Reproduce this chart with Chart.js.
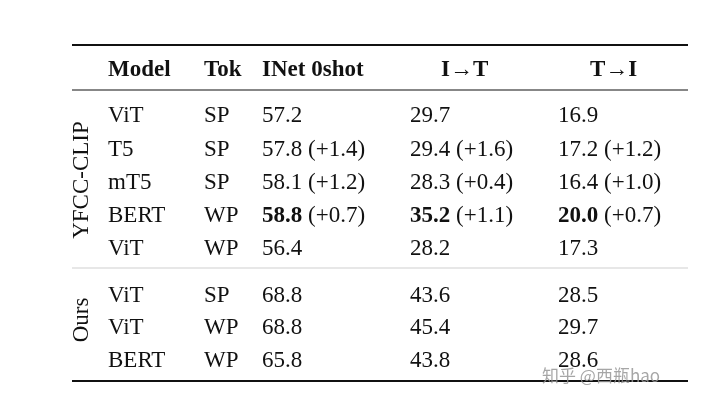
<!DOCTYPE html>
<html>
<head>
<meta charset="utf-8">
<script src="https://cdn.jsdelivr.net/npm/chart.js@4/dist/chart.umd.min.js"></script>
<style>
  html, body { margin: 0; padding: 0; background: #fff; }
</style>
</head>
<body>
<canvas id="tbl" width="716" height="406"></canvas>
<script>
const headers = ["Model", "Tok", "INet 0shot", "I\u2192T", "T\u2192I"];
const groups = ["YFCC-CLIP", "Ours"];
const groupOf = [0, 0, 0, 0, 0, 1, 1, 1];
const models = ["ViT", "T5", "mT5", "BERT", "ViT", "ViT", "ViT", "BERT"];
const toks = ["SP", "SP", "SP", "WP", "WP", "SP", "WP", "WP"];
const inet = ["57.2", "57.8", "58.1", "58.8", "56.4", "68.8", "68.8", "65.8"];
const inetDelta = ["", "(+1.4)", "(+1.2)", "(+0.7)", "", "", "", ""];
const i2t = ["29.7", "29.4", "28.3", "35.2", "28.2", "43.6", "45.4", "43.8"];
const i2tDelta = ["", "(+1.6)", "(+0.4)", "(+1.1)", "", "", "", ""];
const t2i = ["16.9", "17.2", "16.4", "20.0", "17.3", "28.5", "29.7", "28.6"];
const t2iDelta = ["", "(+1.2)", "(+1.0)", "(+0.7)", "", "", "", ""];
const boldRows = [3];

// layout
const colX = [108, 204, 262, 410, 558];
const headerY = 70;
const rowY = [116, 150, 183, 216, 249, 296, 328, 361];
const groupY = [180, 320];
const serif = "'Liberation Serif', 'DejaVu Serif', serif";

const tablePlugin = {
  id: "tablePlugin",
  afterDraw(chart) {
    const { ctx, scales } = chart;
    const X = (v) => scales.x.getPixelForValue(v);
    const Y = (v) => scales.y.getPixelForValue(v);
    ctx.save();
    ctx.fillStyle = "#111";
    ctx.strokeStyle = "#111";

    const rule = (y, w, color) => {
      ctx.strokeStyle = color;
      ctx.lineWidth = w;
      ctx.beginPath();
      ctx.moveTo(X(72), Y(y));
      ctx.lineTo(X(688), Y(y));
      ctx.stroke();
    };
    rule(45, 2, "#111");
    rule(90, 1.2, "#111");
    rule(268, 1, "#cfcfcf");
    rule(381, 2, "#111");

    ctx.textBaseline = "middle";
    ctx.textAlign = "left";
    ctx.fillStyle = "#111";
    ctx.font = "bold 23px " + serif;
    headers.forEach((h, i) => {
      let x = colX[i];
      if (i === 3) x = 441;
      if (i === 4) x = 590;
      ctx.fillText(h, X(x), Y(headerY));
    });

    const cell = (txt, delta, x, y, bold) => {
      ctx.font = (bold ? "bold " : "") + "23px " + serif;
      ctx.fillText(txt, X(x), Y(y));
      if (delta) {
        const w = ctx.measureText(txt + " ").width;
        ctx.font = "23px " + serif;
        ctx.fillText(delta, X(x) + w, Y(y));
      }
    };
    models.forEach((m, r) => {
      const y = rowY[r];
      const b = boldRows.includes(r);
      cell(m, "", colX[0], y, false);
      cell(toks[r], "", colX[1], y, false);
      cell(inet[r], inetDelta[r], colX[2], y, b);
      cell(i2t[r], i2tDelta[r], colX[3], y, b);
      cell(t2i[r], t2iDelta[r], colX[4], y, b);
    });

    ctx.font = "23px " + serif;
    ctx.textAlign = "center";
    groups.forEach((g, i) => {
      ctx.save();
      ctx.translate(X(82), Y(groupY[i]));
      ctx.rotate(-Math.PI / 2);
      ctx.fillText(g, 0, 0);
      ctx.restore();
    });

    ctx.textAlign = "left";
    ctx.font = "17px 'Noto Sans CJK SC', sans-serif";
    ctx.fillStyle = "rgba(150,150,150,0.85)";
    ctx.fillText("\u77e5\u4e4e @\u897f\u74f6hao", X(542), Y(376));
    ctx.restore();
  },
};

new Chart(document.getElementById("tbl"), {
  type: "scatter",
  data: {
    datasets: [{ data: rowY.map((y, r) => ({ x: colX[0], y })), pointRadius: 0 }],
  },
  options: {
    responsive: false,
    devicePixelRatio: 1,
    animation: false,
    layout: { padding: 0 },
    plugins: { legend: { display: false }, tooltip: { enabled: false } },
    scales: {
      x: { type: "linear", min: 0, max: 716, display: false },
      y: { type: "linear", min: 0, max: 406, reverse: true, display: false },
    },
  },
  plugins: [tablePlugin],
});
</script>
</body>
</html>
